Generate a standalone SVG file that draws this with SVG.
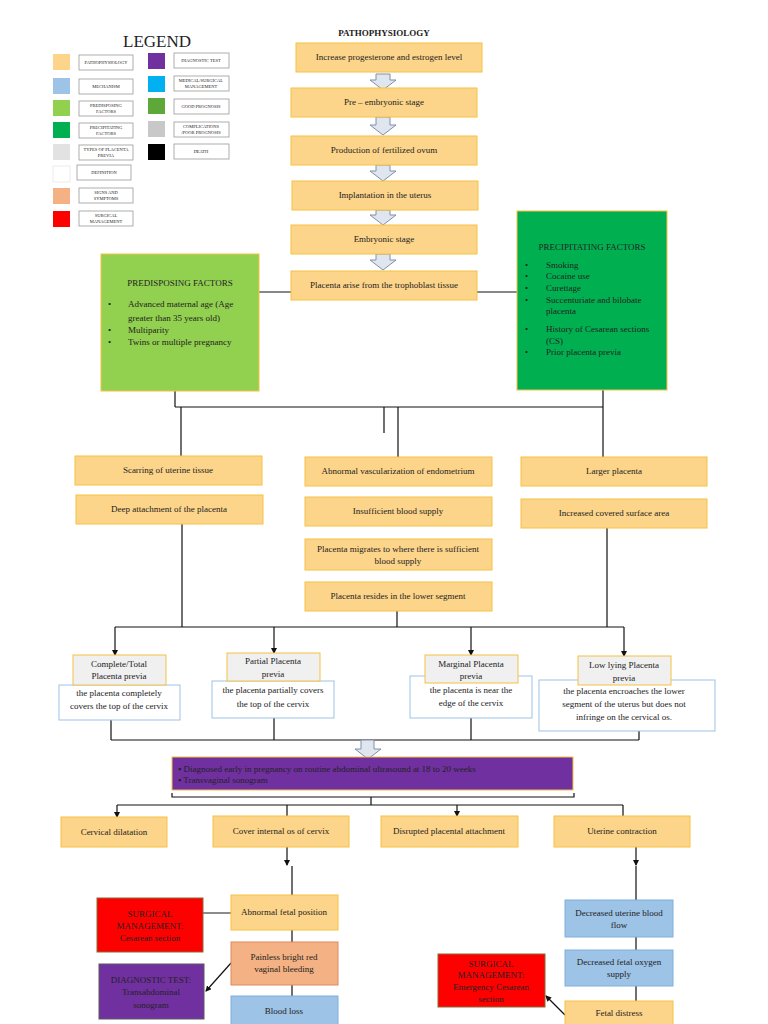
<svg xmlns="http://www.w3.org/2000/svg" width="768" height="1024" viewBox="0 0 768 1024">
<style>
text{font-family:"Liberation Serif","Times New Roman",serif;fill:#222;}
.t{font-size:9px;text-anchor:middle}
.l{font-size:4.5px;text-anchor:middle}
.p{fill:#fdd58a;stroke:#f5c242;stroke-width:1}
.g{fill:#f0f0f0;stroke:#f5c242;stroke-width:1}
.d{fill:#fff;stroke:#9dc3e6;stroke-width:1}
.b{fill:#9dc3e6;stroke:#7fb0dc;stroke-width:1}
.r{fill:#ff0000;stroke:#8a6a3a;stroke-width:1}
.v{fill:#7030a0;stroke:#5a5a5a;stroke-width:1}
.lb{fill:#fff;stroke:#999;stroke-width:0.8}
.ln{stroke:#111;stroke-width:1.2;fill:none}
.ba{fill:#dfe6f0;stroke:#8090a8;stroke-width:1}
</style>
<defs><marker id="ar" markerWidth="6" markerHeight="6" refX="5" refY="3" orient="auto" markerUnits="userSpaceOnUse"><path d="M0,0L6,3L0,6z" fill="#111"/></marker></defs>

<g id="legend">
<text x="157" y="47" font-size="17" text-anchor="middle">LEGEND</text>
<rect x="53" y="54" width="17" height="16" fill="#fdd58a"/><rect class="lb" x="79" y="55" width="54" height="15"/><text class="l" x="106" y="64">PATHOPHYSIOLOGY</text>
<rect x="53" y="78" width="17" height="16" fill="#9dc3e6"/><rect class="lb" x="79" y="79" width="54" height="15"/><text class="l" x="106" y="88">MECHANISM</text>
<rect x="53" y="100" width="17" height="16" fill="#92d050"/><rect class="lb" x="79" y="101" width="54" height="15"/><text class="l" x="106" y="107">PREDISPOSING</text><text class="l" x="106" y="113">FACTORS</text>
<rect x="53" y="122" width="17" height="16" fill="#00b050"/><rect class="lb" x="79" y="123" width="54" height="15"/><text class="l" x="106" y="129">PRECIPITATING</text><text class="l" x="106" y="135">FACTORS</text>
<rect x="53" y="144" width="17" height="16" fill="#e2e2e2"/><rect class="lb" x="79" y="145" width="54" height="15"/><text class="l" x="106" y="151">TYPES OF PLACENTA</text><text class="l" x="106" y="157">PREVIA</text>
<rect x="53" y="166" width="17" height="16" fill="#fff" stroke="#ddd" stroke-width="0.6"/><rect class="lb" x="77" y="165" width="54" height="15"/><text class="l" x="104" y="174">DEFINITION</text>
<rect x="53" y="188" width="17" height="16" fill="#f4b183"/><rect class="lb" x="79" y="188" width="54" height="15"/><text class="l" x="106" y="194">SIGNS AND</text><text class="l" x="106" y="200">SYMPTOMS</text>
<rect x="53" y="211" width="17" height="16" fill="#ff0000"/><rect class="lb" x="79" y="211" width="54" height="15"/><text class="l" x="106" y="217">SURGICAL</text><text class="l" x="106" y="223">MANAGEMENT</text>
<rect x="148" y="53" width="17" height="16" fill="#7030a0"/><rect class="lb" x="174" y="53" width="55" height="15"/><text class="l" x="201" y="62">DIAGNOSTIC TEST</text>
<rect x="148" y="76" width="17" height="16" fill="#00b0f0"/><rect class="lb" x="174" y="76" width="55" height="15"/><text class="l" x="201" y="82">MEDICAL/SURGICAL</text><text class="l" x="201" y="88">MANAGEMENT</text>
<rect x="148" y="98" width="17" height="16" fill="#5ea83a"/><rect class="lb" x="174" y="99" width="55" height="15"/><text class="l" x="201" y="108">GOOD PROGNOSIS</text>
<rect x="148" y="121" width="17" height="16" fill="#c8c8c8"/><rect class="lb" x="174" y="122" width="55" height="15"/><text class="l" x="201" y="128">COMPLICATIONS</text><text class="l" x="201" y="134">/POOR PROGNOSIS</text>
<rect x="148" y="144" width="17" height="16" fill="#000"/><rect class="lb" x="174" y="144" width="55" height="15"/><text class="l" x="201" y="153">DEATH</text>
</g>

<g id="connectors">
<text x="384" y="36" font-size="9" font-weight="bold" text-anchor="middle">PATHOPHYSIOLOGY</text>
<path class="ba" d="M376,74h14v6h6l-13,10l-13,-10h6z"/>
<path class="ba" d="M376,117h14v8h6l-13,10l-13,-10h6z"/>
<path class="ba" d="M376,165h14v6h6l-13,10l-13,-10h6z"/>
<path class="ba" d="M376,210h14v5h6l-13,10l-13,-10h6z"/>
<path class="ba" d="M376,254h14v6h6l-13,10l-13,-10h6z"/>
<path class="ln" d="M259,292H291M477,292H517"/>
<path class="ln" d="M175,391V407M603,390V407M175,407H603M384,407V433M181,407V456M398,407V457M603,407V457"/>
<path class="ln" d="M182,524V627M397,611V627M607,528V627M115,627H624"/>
<path class="ln" marker-end="url(#ar)" d="M115,627V655"/>
<path class="ln" marker-end="url(#ar)" d="M274,627V653"/>
<path class="ln" marker-end="url(#ar)" d="M471,627V655"/>
<path class="ln" marker-end="url(#ar)" d="M624,627V656"/>
<path class="ln" d="M111,720V740M274,718V740M471,718V740M639,731V740M111,740H639"/>
<path class="ba" d="M361,740h13v9h7l-13,10l-13,-10h6z"/>
<path class="ln" d="M172,793v4h199v3M371,797h203v-4"/>
<path class="ln" d="M371,800V805M117,805H623M287,805V816M623,805V816"/>
<path class="ln" marker-end="url(#ar)" d="M117,805V817"/>
<path class="ln" marker-end="url(#ar)" d="M457,805V816"/>
<path class="ln" marker-end="url(#ar)" d="M287,847V865"/>
<path class="ln" d="M292,866V895M292,930V942M292,985V996"/>
<path class="ln" marker-end="url(#ar)" d="M636,847V865"/>
<path class="ln" d="M636,866V900M636,937V950M636,986V1001"/>
<path d="M203,913H231" stroke="#666" stroke-width="1.5"/>
<path class="ln" marker-end="url(#ar)" d="M231,963L206,991"/>
<path class="ln" marker-end="url(#ar)" d="M565,1015L546,996"/>
</g>

<g id="p1"><rect class="p" x="296" y="43" width="186" height="29"/><text class="t" x="389" y="60">Increase progesterone and estrogen level</text></g>
<g id="p2"><rect class="p" x="291" y="88" width="186" height="29"/><text class="t" x="384" y="105">Pre – embryonic stage</text></g>
<g id="p3"><rect class="p" x="291" y="136" width="186" height="29"/><text class="t" x="384" y="153">Production of fertilized ovum</text></g>
<g id="p4"><rect class="p" x="292" y="181" width="186" height="29"/><text class="t" x="385" y="198">Implantation in the uterus</text></g>
<g id="p5"><rect class="p" x="291" y="225" width="186" height="29"/><text class="t" x="384" y="242">Embryonic stage</text></g>
<g id="p6"><rect class="p" x="291" y="271" width="186" height="29"/><text class="t" x="384" y="288">Placenta arise from the trophoblast tissue</text></g>

<g id="predisposing"><rect x="101" y="254" width="158" height="137" fill="#92d050" stroke="#f5c242"/>
<text class="t" x="180" y="286">PREDISPOSING FACTORS</text>
<g font-size="9"><text x="108" y="307">•</text><text x="128" y="307">Advanced maternal age (Age</text><text x="128" y="321">greater than 35 years old)</text>
<text x="108" y="333">•</text><text x="128" y="333">Multiparity</text><text x="108" y="345">•</text><text x="128" y="345">Twins or multiple pregnancy</text></g></g>

<g id="precipitating"><rect x="517" y="211" width="150" height="179" fill="#00b050" stroke="#f5c242"/>
<text class="t" x="592" y="250">PRECIPITATING FACTORS</text>
<g font-size="9"><text x="525" y="268">•</text><text x="546" y="268">Smoking</text>
<text x="525" y="279">•</text><text x="546" y="279">Cocaine use</text>
<text x="525" y="291">•</text><text x="546" y="291">Curettage</text>
<text x="525" y="303">•</text><text x="546" y="303">Succenturiate and bilobate</text><text x="546" y="314">placenta</text>
<text x="525" y="332">•</text><text x="546" y="332">History of Cesarean sections</text><text x="546" y="344">(CS)</text>
<text x="525" y="355">•</text><text x="546" y="355">Prior placenta previa</text></g></g>

<g id="m1"><rect class="p" x="75" y="456" width="187" height="29"/><text class="t" x="168" y="473">Scarring of uterine tissue</text></g>
<g id="m2"><rect class="p" x="76" y="495" width="187" height="29"/><text class="t" x="169" y="512">Deep attachment of the placenta</text></g>
<g id="m3"><rect class="p" x="305" y="457" width="187" height="29"/><text class="t" x="398" y="474">Abnormal vascularization of endometrium</text></g>
<g id="m4"><rect class="p" x="305" y="497" width="187" height="29"/><text class="t" x="398" y="514">Insufficient blood supply</text></g>
<g id="m5"><rect class="p" x="305" y="539" width="187" height="31"/><text class="t" x="398" y="552">Placenta migrates to where there is sufficient</text><text class="t" x="398" y="564">blood supply</text></g>
<g id="m6"><rect class="p" x="305" y="582" width="187" height="29"/><text class="t" x="398" y="599">Placenta resides in the lower segment</text></g>
<g id="m7"><rect class="p" x="521" y="457" width="186" height="29"/><text class="t" x="614" y="474">Larger placenta</text></g>
<g id="m8"><rect class="p" x="521" y="499" width="186" height="29"/><text class="t" x="614" y="516">Increased covered surface area</text></g>

<g id="complete"><rect class="d" x="59" y="685" width="121" height="35"/><rect class="g" x="73" y="655" width="93" height="30"/>
<text class="t" x="119" y="667">Complete/Total</text><text class="t" x="119" y="679">Placenta previa</text>
<text class="t" x="119" y="696">the placenta completely</text><text class="t" x="119" y="709">covers the top of the cervix</text></g>
<g id="partial"><rect class="d" x="212" y="681" width="122" height="37"/><rect class="g" x="227" y="653" width="93" height="28"/>
<text class="t" x="273" y="664">Partial Placenta</text><text class="t" x="273" y="677">previa</text>
<text class="t" x="273" y="693">the placenta partially covers</text><text class="t" x="273" y="707">the top of the cervix</text></g>
<g id="marginal"><rect class="d" x="410" y="676" width="122" height="42"/><rect class="g" x="425" y="655" width="93" height="28"/>
<text class="t" x="471" y="667">Marginal Placenta</text><text class="t" x="471" y="679">previa</text>
<text class="t" x="471" y="693">the placenta is near the</text><text class="t" x="471" y="706">edge of the cervix</text></g>
<g id="lowlying"><rect class="d" x="539" y="680" width="176" height="51"/><rect class="g" x="578" y="656" width="93" height="29"/>
<text class="t" x="624" y="668">Low lying Placenta</text><text class="t" x="624" y="681">previa</text>
<text class="t" x="624" y="694">the placenta encroaches the lower</text><text class="t" x="624" y="707">segment of the uterus but does not</text><text class="t" x="624" y="720">infringe on the cervical os.</text></g>

<g id="diag"><rect x="172" y="757" width="401" height="33" fill="#7030a0" stroke="#f5c242"/>
<text x="178" y="772" font-size="9">▪  Diagnosed early in pregnancy on routine abdominal ultrasound at 18 to 20 weeks</text>
<text x="178" y="783" font-size="9">▪  Transvaginal sonogram</text></g>

<g id="s1"><rect class="p" x="61" y="817" width="106" height="30"/><text class="t" x="114" y="835">Cervical dilatation</text></g>
<g id="s2"><rect class="p" x="213" y="816" width="136" height="31"/><text class="t" x="281" y="834">Cover internal os of cervix</text></g>
<g id="s3"><rect class="p" x="381" y="816" width="137" height="31"/><text class="t" x="449" y="834">Disrupted placental attachment</text></g>
<g id="s4"><rect class="p" x="554" y="816" width="136" height="31"/><text class="t" x="622" y="834">Uterine contraction</text></g>

<g id="afp"><rect class="p" x="231" y="895" width="107" height="35"/><text class="t" x="284" y="915">Abnormal fetal position</text></g>
<g id="sm1"><rect class="r" x="97" y="898" width="106" height="54"/><text class="t" x="150" y="917">SURGICAL</text><text class="t" x="150" y="929">MANAGEMENT:</text><text class="t" x="150" y="941">Cesarean section</text></g>
<g id="bleed"><rect x="231" y="942" width="107" height="43" fill="#f4b183" stroke="#e08a5a"/><text class="t" x="284" y="960">Painless bright red</text><text class="t" x="284" y="972">vaginal bleeding</text></g>
<g id="dt"><rect class="v" x="99" y="964" width="105" height="55"/><text class="t" x="151" y="983">DIAGNOSTIC TEST:</text><text class="t" x="151" y="995">Transabdominal</text><text class="t" x="151" y="1008">sonogram</text></g>
<g id="bloss"><rect class="b" x="231" y="996" width="107" height="30"/><text class="t" x="284" y="1014">Blood loss</text></g>

<g id="dubf"><rect class="b" x="565" y="900" width="108" height="37"/><text class="t" x="619" y="916">Decreased uterine blood</text><text class="t" x="619" y="928">flow</text></g>
<g id="dfos"><rect class="b" x="565" y="950" width="108" height="36"/><text class="t" x="619" y="965">Decreased fetal oxygen</text><text class="t" x="619" y="977">supply</text></g>
<g id="fd"><rect class="p" x="565" y="1001" width="108" height="26"/><text class="t" x="619" y="1016">Fetal distress</text></g>
<g id="sm2"><rect class="r" x="438" y="954" width="107" height="53"/><text class="t" x="491" y="967">SURGICAL</text><text class="t" x="491" y="978">MANAGEMENT:</text><text class="t" x="491" y="990">Emergency Cesarean</text><text class="t" x="491" y="1002">section</text></g>
</svg>
